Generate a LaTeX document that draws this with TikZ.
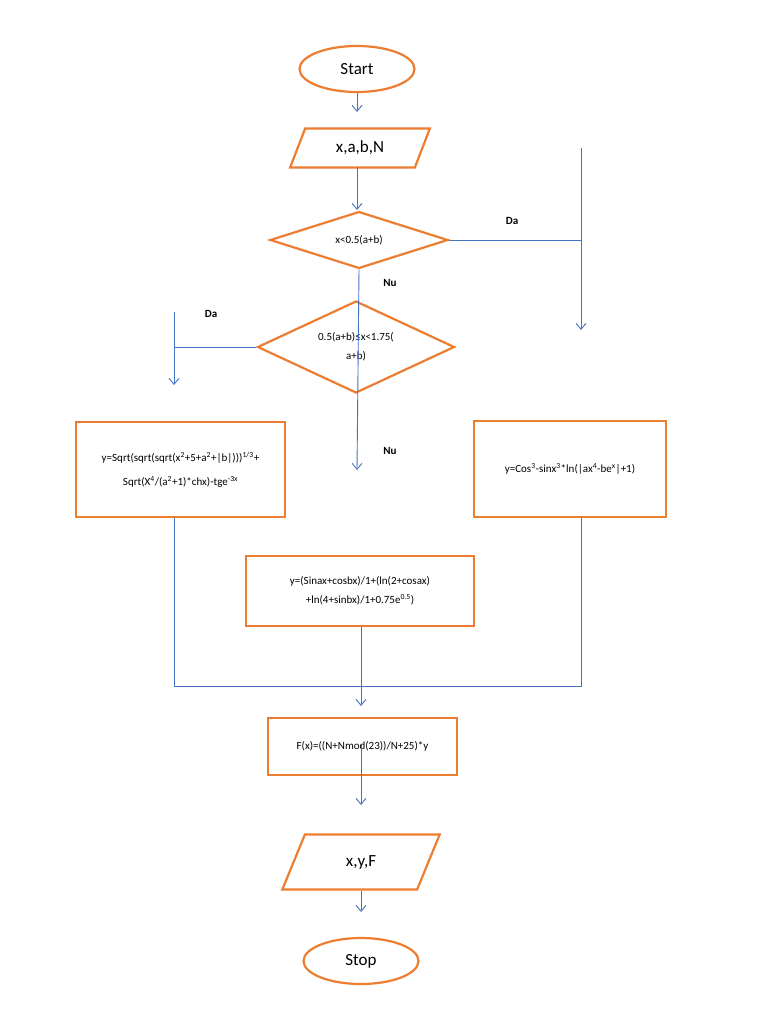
\documentclass[tikz,border=0pt]{standalone}
\usepackage{fontspec}
\setmainfont{Carlito}
\usetikzlibrary{shapes.geometric,arrows.meta}
\definecolor{boxorange}{RGB}{237,125,49}
\definecolor{lineblue}{RGB}{68,114,196}
\newcommand{\sups}[1]{\textsuperscript{#1}}
\tikzset{
  blk/.style={draw=boxorange,line width=2.2pt,font=\fontsize{11}{24}\selectfont,align=center},
  term/.style={blk,ellipse,minimum width=115pt,minimum height=46pt,font=\fontsize{17}{19}\selectfont},
  io/.style={blk,trapezium,trapezium left angle=70,trapezium right angle=110,trapezium stretches=true,font=\fontsize{17}{19}\selectfont},
  cond/.style={blk,diamond,inner sep=0pt,font=\fontsize{11}{19}\selectfont},
  proc/.style={blk,rectangle},
  flow/.style={draw=lineblue,line width=0.9pt},
  arr/.style={flow,-{Straight Barb[length=6pt,width=10pt]}},
  lbl/.style={font=\fontsize{11}{12}\selectfont\bfseries}
}
\begin{document}
\begin{tikzpicture}[x=1pt,y=-1pt]
    \useasboundingbox[fill=white] (0,0) rectangle (768,1024);
    % blocks
    \node[term] (start) at (357,69) {Start};
    \node[io,minimum width=140pt,minimum height=39pt] (in) at (360,148) {x,a,b,N};
    \node[cond,minimum width=178pt,minimum height=56pt] (c1) at (359,240) {x<0.5(a+b)};
    \node[cond,aspect=2.3,minimum width=197pt,minimum height=92pt] (c2) at (356,347) {0.5(a+b)≤x<1.75(\\a+b)};
    \node[proc,minimum width=209pt,minimum height=95pt] (p1) at (180.5,469.5)
      {y=Sqrt(sqrt(sqrt(x\sups{2}+5+a\sups{2}+|b|)))\sups{1/3}+\\Sqrt(X\sups{4}/(a\sups{2}+1)*chx)-tge\sups{-3x}};
    \node[proc,minimum width=192pt,minimum height=96pt] (p3) at (570,469)
      {y=Cos\sups{3}-sinx\sups{3}*ln(|ax\sups{4}-be\sups{x}|+1)};
    \node[proc,minimum width=228pt,minimum height=70pt,font=\fontsize{11}{19}\selectfont] (p2) at (360,591)
      {y=(Sinax+cosbx)/1+(ln(2+cosax)\\+ln(4+sinbx)/1+0.75e\sups{0.5})};
    \node[proc,minimum width=189pt,minimum height=57pt] (f) at (362.5,746.5) {F(x)=((N+Nmod(23))/N+25)*y};
    \node[io,minimum width=158pt,minimum height=55pt] (out) at (361,862) {x,y,F};
    \node[term] (stop) at (361,961) {Stop};
    % labels
    \node[lbl] (da1) at (512,221) {Da};
    \node[lbl] (nu1) at (390,283) {Nu};
    \node[lbl] (da2) at (211,314) {Da};
    \node[lbl] (nu2) at (390,451) {Nu};
    % helper points
    \coordinate (r1) at (581,240);
    \coordinate (rtop) at (581,148);
    \coordinate (rend) at (581,330);
    \coordinate (l1) at (174,347);
    \coordinate (ltop) at (174,312);
    \coordinate (lend) at (174,385);
    \coordinate (mend) at (357,470);
    \coordinate (jl) at (174,686);
    \coordinate (jr) at (581,686);
    \coordinate (jm) at (361,706);
    \coordinate (fout) at (361,805);
    % connectors
    \draw[arr] (start.south) -- (357,112);
    \draw[arr] (357,167) -- (357,210);
    \draw[flow] (c1.east) -- (r1);
    \draw[arr] (rtop) -- (rend);
    \draw[arr] (c1.south) -- (mend);
    \draw[flow] (c2.west) -- (l1);
    \draw[arr] (ltop) -- (lend);
    \draw[flow] (p1.south -| jl) -- (jl) -- (jr) -- (p3.south -| jr);
    \draw[arr] (p2.south -| jm) -- (jm);
    \draw[arr] (361,745) -- (fout);
    \draw[arr] (out.south -| stop) -- (361,912);
\end{tikzpicture}
\end{document}
